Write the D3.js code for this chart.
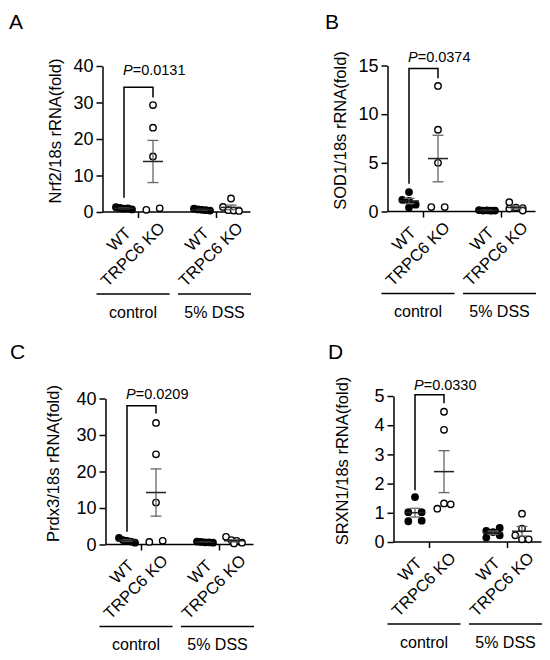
<!DOCTYPE html>
<html>
<head>
<meta charset="utf-8">
<script src="https://cdn.jsdelivr.net/npm/d3@7"></script>
<style>
    body { margin: 0; background: #fff; }
    svg { display: block; font-family: "Liberation Sans", Arial, sans-serif; }
</style>
</head>
<body>
<svg id="chart" width="550" height="660"></svg>
<script>
// Data
const conditions = ['control', '5% DSS']
const genotypes = ['WT', 'TRPC6 KO']
const panelLetters = ['A', 'B', 'C', 'D']
const yTitles = ['Nrf2/18s rRNA(fold)', 'SOD1/18s rRNA(fold)', 'Prdx3/18s rRNA(fold)', 'SRXN1/18s rRNA(fold)']
const yTicks = [[0, 10, 20, 30, 40], [0, 5, 10, 15], [0, 10, 20, 30, 40], [0, 1, 2, 3, 4, 5]]
const pValues = ['0.0131', '0.0374', '0.0209', '0.0330']

// group order: control WT, control KO, DSS WT, DSS KO
const nrf2 = [[1.3, 1.1, 0.9, 1.0, 0.7], [29.3, 23.1, 15.2, 0.6, 1.0], [0.9, 0.7, 0.6, 0.5, 0.4], [3.7, 1.4, 0.5, 0.4, 0.3]]
const sod1 = [[2.0, 1.2, 1.1, 0.4, 0.7], [12.9, 8.4, 5.0, 0.45, 0.45], [0.15, 0.1, 0.12, 0.08, 0.1], [0.95, 0.4, 0.35, 0.3, 0.1]]
const prdx3 = [[1.8, 1.2, 1.0, 0.8, 0.5], [33.3, 24.7, 11.5, 0.7, 1.0], [0.8, 0.7, 0.6, 0.6, 0.5], [2.1, 1.2, 1.0, 0.5, 0.3]]
const srxn1 = [[1.54, 1.02, 1.02, 0.71, 0.73], [4.46, 3.84, 1.14, 1.32, 1.29], [0.38, 0.15, 0.34, 0.48, 0.23], [0.97, 0.46, 0.23, 0.09, 0.09]]

// significance brackets, in y units
const bracketTops = [34.2, 14.7, 38, 5.04]
const bracketLeftEnds = [3.9, 2.86, 3.5, 1.77]
const bracketRightEnds = [31.4, 13.7, 35.9, 4.75]
const pLabelLevels = [37.5, 15.4, 40, 5.2]

const datasets = [nrf2, sod1, prdx3, srxn1]

// Layout
const plotW = 148
const plotH = 146
const layout = [
    { left: 102.5, top: 66, titleX: -41.5, letterX: 9, letterY: 28.5 },
    { left: 387.5, top: 65.5, titleX: -41.5, letterX: 325, letterY: 28.5 },
    { left: 105.5, top: 398.5, titleX: -47, letterX: 10, letterY: 358.5 },
    { left: 393.5, top: 396, titleX: -45.5, letterX: 328, letterY: 358.5 }
]
const groupSpans = [[-6, 67], [75.5, 148.5]]

const svg = d3.select('#chart')

const xGroup = d3.scaleBand().domain(conditions).range([-3, 153])
const xGeno = d3.scaleBand().domain(genotypes).range([-29, 29])
const groupX = c => xGroup(c) + xGroup.bandwidth() / 2
const catX = d => groupX(d.c) + xGeno(d.gt) + xGeno.bandwidth() / 2

const cats = conditions.flatMap(c => genotypes.map(gt => ({ c, gt })))

// spread overlapping points side by side, like a column scatter
function swarm(values, y) {
    const step = 6.7, maxHalf = 8, thresh = 6
    const pts = values.map((v, i) => ({ v, i, py: y(v), dx: 0 }))
    const sorted = [...pts].sort((a, b) => a.py - b.py)
    const clusters = []
    sorted.forEach(p => {
        const last = clusters[clusters.length - 1]
        if (last && p.py - last[0].py < thresh) last.push(p)
        else clusters.push([p])
    })
    clusters.forEach(cl => {
        cl.sort((a, b) => a.i - b.i)
        const n = cl.length
        if (n === 2) { cl[0].dx = -step; cl[1].dx = step }
        else if (n > 2) {
            const s = Math.min(step, 2 * maxHalf / (n - 1))
            cl.forEach((p, k) => p.dx = (k - (n - 1) / 2) * s)
        }
    })
    return pts
}

datasets.forEach((data, i) => {
    const L = layout[i]
    const g = svg.append('g').attr('transform', `translate(${L.left}, ${L.top})`)
    const ticks = yTicks[i]
    const y = d3.scaleLinear().domain([0, ticks[ticks.length - 1]]).range([plotH, 0])

    // panel letter
    svg.append('text')
        .attr('x', L.letterX)
        .attr('y', L.letterY)
        .attr('font-size', 21)
        .text(panelLetters[i])

    // y axis
    g.append('g')
        .call(d3.axisLeft(y).tickValues(ticks).tickFormat(d3.format('d'))
            .tickSize(6).tickSizeOuter(0).tickPadding(3))
        .attr('font-family', null)
        .attr('font-size', 18)
        .call(a => a.selectAll('text').attr('fill', '#000'))
        .call(a => a.selectAll('line, path').attr('stroke', '#000').attr('stroke-width', 1.5))

    g.append('text')
        .attr('transform', `translate(${L.titleX}, ${plotH / 2 - 8}) rotate(-90)`)
        .attr('text-anchor', 'middle')
        .attr('font-size', 16.5)
        .text(yTitles[i])

    // x axis
    g.append('line')
        .attr('x1', 0).attr('x2', plotW)
        .attr('y1', plotH).attr('y2', plotH)
        .attr('stroke', '#000').attr('stroke-width', 1.5)

    g.selectAll('.xtick')
        .data(conditions)
        .join('line')
        .attr('x1', groupX).attr('x2', groupX)
        .attr('y1', plotH).attr('y2', plotH + 6)
        .attr('stroke', '#000').attr('stroke-width', 1.5)

    g.selectAll('.xlab')
        .data(cats)
        .join('text')
        .attr('transform', d => `translate(${catX(d) + 8}, ${plotH + 22}) rotate(-45)`)
        .attr('text-anchor', 'end')
        .attr('dx', d => d.gt === 'WT' ? 0 : 7)
        .attr('font-size', 16.5)
        .text(d => d.gt)

    // condition lines and labels
    g.selectAll('.gline')
        .data(conditions)
        .join('line')
        .attr('x1', (d, k) => groupSpans[k][0])
        .attr('x2', (d, k) => groupSpans[k][1])
        .attr('y1', plotH + 82).attr('y2', plotH + 82)
        .attr('stroke', '#000').attr('stroke-width', 1.3)

    g.selectAll('.glab')
        .data(conditions)
        .join('text')
        .attr('x', (d, k) => (groupSpans[k][0] + groupSpans[k][1]) / 2)
        .attr('y', plotH + 105.5)
        .attr('text-anchor', 'middle')
        .attr('font-size', 16)
        .text(d => d)

    // points, then mean and SEM on top
    cats.forEach((cat, k) => {
        const values = data[k]
        const cx = catX(cat)
        const pts = swarm(values, y)

        g.append('g').selectAll('circle')
            .data(pts)
            .join('circle')
            .attr('cx', d => cx + d.dx)
            .attr('cy', d => d.py)
            .attr('r', 3.2)
            .attr('fill', cat.gt === 'WT' ? '#000' : '#fff')
            .attr('stroke', '#000')
            .attr('stroke-width', 1.4)

        const mean = d3.mean(values)
        const sem = d3.deviation(values) / Math.sqrt(values.length)
        const eg = g.append('g').attr('stroke', '#666').attr('stroke-width', 1.3)
        eg.append('line')
            .attr('x1', cx).attr('x2', cx)
            .attr('y1', y(mean - sem)).attr('y2', y(mean + sem))
        eg.selectAll('.cap')
            .data([mean - sem, mean + sem])
            .join('line')
            .attr('x1', cx - 5.5).attr('x2', cx + 5.5)
            .attr('y1', d => y(d)).attr('y2', d => y(d))
        g.append('line')
            .attr('x1', cx - 10).attr('x2', cx + 10)
            .attr('y1', y(mean)).attr('y2', y(mean))
            .attr('stroke', '#222').attr('stroke-width', 1.5)
    })

    // significance bracket
    const xl = catX(cats[0])
    const xr = catX(cats[1])
    g.append('path')
        .attr('d', `M${xl},${y(bracketLeftEnds[i])}V${y(bracketTops[i])}H${xr}V${y(bracketRightEnds[i])}`)
        .attr('fill', 'none')
        .attr('stroke', '#000')
        .attr('stroke-width', 1.5)

    const pt = g.append('text')
        .attr('x', xl - 1)
        .attr('y', y(pLabelLevels[i]))
        .attr('font-size', 14.5)
    pt.append('tspan').attr('font-style', 'italic').text('P')
    pt.append('tspan').text('=' + pValues[i])
})
</script>
</body>
</html>
